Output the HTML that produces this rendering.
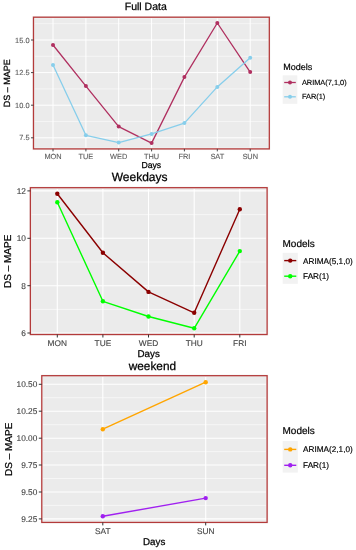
<!DOCTYPE html>
<html><head><meta charset="utf-8"><title>DS-MAPE charts</title>
<style>html,body{margin:0;padding:0;background:#fff}svg{display:block}text{font-family:"Liberation Sans",sans-serif;text-rendering:geometricPrecision}</style>
</head><body>
<svg width="356" height="550" viewBox="0 0 356 550">
<rect width="356" height="550" fill="#fff"/>
<rect x="33.5" y="17.2" width="235.80" height="131.70" fill="#EBEBEB"/>
<line x1="33.5" x2="269.3" y1="23.7" y2="23.7" stroke="#fff" stroke-width="0.5"/>
<line x1="33.5" x2="269.3" y1="56.3" y2="56.3" stroke="#fff" stroke-width="0.5"/>
<line x1="33.5" x2="269.3" y1="88.9" y2="88.9" stroke="#fff" stroke-width="0.5"/>
<line x1="33.5" x2="269.3" y1="121.5" y2="121.5" stroke="#fff" stroke-width="0.5"/>
<line x1="33.5" x2="269.3" y1="40" y2="40" stroke="#fff" stroke-width="1"/>
<line x1="33.5" x2="269.3" y1="72.6" y2="72.6" stroke="#fff" stroke-width="1"/>
<line x1="33.5" x2="269.3" y1="105.2" y2="105.2" stroke="#fff" stroke-width="1"/>
<line x1="33.5" x2="269.3" y1="137.8" y2="137.8" stroke="#fff" stroke-width="1"/>
<line x1="53" x2="53" y1="17.2" y2="148.9" stroke="#fff" stroke-width="1"/>
<line x1="85.9" x2="85.9" y1="17.2" y2="148.9" stroke="#fff" stroke-width="1"/>
<line x1="118.7" x2="118.7" y1="17.2" y2="148.9" stroke="#fff" stroke-width="1"/>
<line x1="151.6" x2="151.6" y1="17.2" y2="148.9" stroke="#fff" stroke-width="1"/>
<line x1="184.4" x2="184.4" y1="17.2" y2="148.9" stroke="#fff" stroke-width="1"/>
<line x1="217.3" x2="217.3" y1="17.2" y2="148.9" stroke="#fff" stroke-width="1"/>
<line x1="250.2" x2="250.2" y1="17.2" y2="148.9" stroke="#fff" stroke-width="1"/>
<polyline points="53,45 85.9,86.1 118.7,126.6 151.6,143.1 184.4,77.1 217.3,23.0 250.2,72.1" fill="none" stroke="#B03060" stroke-width="1.3" stroke-linejoin="round"/>
<circle cx="53" cy="45" r="2.0" fill="#B03060"/>
<circle cx="85.9" cy="86.1" r="2.0" fill="#B03060"/>
<circle cx="118.7" cy="126.6" r="2.0" fill="#B03060"/>
<circle cx="151.6" cy="143.1" r="2.0" fill="#B03060"/>
<circle cx="184.4" cy="77.1" r="2.0" fill="#B03060"/>
<circle cx="217.3" cy="23.0" r="2.0" fill="#B03060"/>
<circle cx="250.2" cy="72.1" r="2.0" fill="#B03060"/>
<polyline points="53,65 85.9,135.3 118.7,142.6 151.6,133.9 184.4,123.1 217.3,86.9 250.2,57.7" fill="none" stroke="#87CEEB" stroke-width="1.3" stroke-linejoin="round"/>
<circle cx="53" cy="65" r="2.0" fill="#87CEEB"/>
<circle cx="85.9" cy="135.3" r="2.0" fill="#87CEEB"/>
<circle cx="118.7" cy="142.6" r="2.0" fill="#87CEEB"/>
<circle cx="151.6" cy="133.9" r="2.0" fill="#87CEEB"/>
<circle cx="184.4" cy="123.1" r="2.0" fill="#87CEEB"/>
<circle cx="217.3" cy="86.9" r="2.0" fill="#87CEEB"/>
<circle cx="250.2" cy="57.7" r="2.0" fill="#87CEEB"/>
<rect x="33.5" y="17.2" width="235.80" height="131.70" fill="none" stroke="#F4F4F4" stroke-width="2.5"/>
<rect x="33.5" y="17.2" width="235.80" height="131.70" fill="none" stroke="#B33A3A" stroke-width="1.3"/>
<line x1="31.0" x2="33.5" y1="40" y2="40" stroke="#333" stroke-width="0.9"/>
<text x="29.5" y="42.66" font-size="7.4" fill="#5E5E5E" stroke="#5E5E5E" stroke-width="0.12" text-anchor="end">15.0</text>
<line x1="31.0" x2="33.5" y1="72.6" y2="72.6" stroke="#333" stroke-width="0.9"/>
<text x="29.5" y="75.26" font-size="7.4" fill="#5E5E5E" stroke="#5E5E5E" stroke-width="0.12" text-anchor="end">12.5</text>
<line x1="31.0" x2="33.5" y1="105.2" y2="105.2" stroke="#333" stroke-width="0.9"/>
<text x="29.5" y="107.86" font-size="7.4" fill="#5E5E5E" stroke="#5E5E5E" stroke-width="0.12" text-anchor="end">10.0</text>
<line x1="31.0" x2="33.5" y1="137.8" y2="137.8" stroke="#333" stroke-width="0.9"/>
<text x="29.5" y="140.46" font-size="7.4" fill="#5E5E5E" stroke="#5E5E5E" stroke-width="0.12" text-anchor="end">7.5</text>
<line x1="53" x2="53" y1="148.9" y2="151.4" stroke="#333" stroke-width="0.9"/>
<text x="53" y="159.3" font-size="7.4" fill="#5E5E5E" stroke="#5E5E5E" stroke-width="0.12" text-anchor="middle">MON</text>
<line x1="85.9" x2="85.9" y1="148.9" y2="151.4" stroke="#333" stroke-width="0.9"/>
<text x="85.9" y="159.3" font-size="7.4" fill="#5E5E5E" stroke="#5E5E5E" stroke-width="0.12" text-anchor="middle">TUE</text>
<line x1="118.7" x2="118.7" y1="148.9" y2="151.4" stroke="#333" stroke-width="0.9"/>
<text x="118.7" y="159.3" font-size="7.4" fill="#5E5E5E" stroke="#5E5E5E" stroke-width="0.12" text-anchor="middle">WED</text>
<line x1="151.6" x2="151.6" y1="148.9" y2="151.4" stroke="#333" stroke-width="0.9"/>
<text x="151.6" y="159.3" font-size="7.4" fill="#5E5E5E" stroke="#5E5E5E" stroke-width="0.12" text-anchor="middle">THU</text>
<line x1="184.4" x2="184.4" y1="148.9" y2="151.4" stroke="#333" stroke-width="0.9"/>
<text x="184.4" y="159.3" font-size="7.4" fill="#5E5E5E" stroke="#5E5E5E" stroke-width="0.12" text-anchor="middle">FRI</text>
<line x1="217.3" x2="217.3" y1="148.9" y2="151.4" stroke="#333" stroke-width="0.9"/>
<text x="217.3" y="159.3" font-size="7.4" fill="#5E5E5E" stroke="#5E5E5E" stroke-width="0.12" text-anchor="middle">SAT</text>
<line x1="250.2" x2="250.2" y1="148.9" y2="151.4" stroke="#333" stroke-width="0.9"/>
<text x="250.2" y="159.3" font-size="7.4" fill="#5E5E5E" stroke="#5E5E5E" stroke-width="0.12" text-anchor="middle">SUN</text>
<text x="145.8" y="10.4" font-size="10.5" fill="#000" stroke="#000" stroke-width="0.25" text-anchor="middle">Full Data</text>
<text x="151.3" y="167.9" font-size="8.7" fill="#000" stroke="#000" stroke-width="0.25" text-anchor="middle">Days</text>
<text transform="translate(10.4,83.2) rotate(-90)" font-size="9" fill="#000" stroke="#000" stroke-width="0.25" text-anchor="middle">DS – MAPE</text>
<text x="283.2" y="69.7" font-size="9" fill="#000" stroke="#000" stroke-width="0.2">Models</text>
<rect x="282.7" y="75.3" width="14.60" height="28.50" fill="#F2F2F2"/>
<line x1="284.2" x2="295.8" y1="82.5" y2="82.5" stroke="#B03060" stroke-width="1.3"/>
<circle cx="290.0" cy="82.5" r="2.0" fill="#B03060"/>
<text x="301.9" y="85.16" font-size="7.4" fill="#000" stroke="#000" stroke-width="0.15">ARIMA(7,1,0)</text>
<line x1="284.2" x2="295.8" y1="96.8" y2="96.8" stroke="#87CEEB" stroke-width="1.3"/>
<circle cx="290.0" cy="96.8" r="2.0" fill="#87CEEB"/>
<text x="301.9" y="99.46" font-size="7.4" fill="#000" stroke="#000" stroke-width="0.15">FAR(1)</text>
<rect x="30.4" y="187.7" width="236.70" height="146.80" fill="#EBEBEB"/>
<line x1="30.4" x2="267.1" y1="214.6" y2="214.6" stroke="#fff" stroke-width="0.55"/>
<line x1="30.4" x2="267.1" y1="262" y2="262" stroke="#fff" stroke-width="0.55"/>
<line x1="30.4" x2="267.1" y1="309.4" y2="309.4" stroke="#fff" stroke-width="0.55"/>
<line x1="30.4" x2="267.1" y1="190.9" y2="190.9" stroke="#fff" stroke-width="1.1"/>
<line x1="30.4" x2="267.1" y1="238.3" y2="238.3" stroke="#fff" stroke-width="1.1"/>
<line x1="30.4" x2="267.1" y1="285.7" y2="285.7" stroke="#fff" stroke-width="1.1"/>
<line x1="30.4" x2="267.1" y1="333.0" y2="333.0" stroke="#fff" stroke-width="1.1"/>
<line x1="57.3" x2="57.3" y1="187.7" y2="334.5" stroke="#fff" stroke-width="1.1"/>
<line x1="102.9" x2="102.9" y1="187.7" y2="334.5" stroke="#fff" stroke-width="1.1"/>
<line x1="148.5" x2="148.5" y1="187.7" y2="334.5" stroke="#fff" stroke-width="1.1"/>
<line x1="194.2" x2="194.2" y1="187.7" y2="334.5" stroke="#fff" stroke-width="1.1"/>
<line x1="239.8" x2="239.8" y1="187.7" y2="334.5" stroke="#fff" stroke-width="1.1"/>
<polyline points="57.3,193.8 102.9,252.8 148.5,291.9 194.2,312.8 239.8,209.2" fill="none" stroke="#8B0000" stroke-width="1.4" stroke-linejoin="round"/>
<circle cx="57.3" cy="193.8" r="2.2" fill="#8B0000"/>
<circle cx="102.9" cy="252.8" r="2.2" fill="#8B0000"/>
<circle cx="148.5" cy="291.9" r="2.2" fill="#8B0000"/>
<circle cx="194.2" cy="312.8" r="2.2" fill="#8B0000"/>
<circle cx="239.8" cy="209.2" r="2.2" fill="#8B0000"/>
<polyline points="57.3,202.3 102.9,301.3 148.5,316.5 194.2,328.3 239.8,251.1" fill="none" stroke="#00FF00" stroke-width="1.4" stroke-linejoin="round"/>
<circle cx="57.3" cy="202.3" r="2.2" fill="#00FF00"/>
<circle cx="102.9" cy="301.3" r="2.2" fill="#00FF00"/>
<circle cx="148.5" cy="316.5" r="2.2" fill="#00FF00"/>
<circle cx="194.2" cy="328.3" r="2.2" fill="#00FF00"/>
<circle cx="239.8" cy="251.1" r="2.2" fill="#00FF00"/>
<rect x="30.4" y="187.7" width="236.70" height="146.80" fill="none" stroke="#F4F4F4" stroke-width="2.5"/>
<rect x="30.4" y="187.7" width="236.70" height="146.80" fill="none" stroke="#B33A3A" stroke-width="1.3"/>
<line x1="27.4" x2="30.4" y1="190.9" y2="190.9" stroke="#333" stroke-width="1"/>
<text x="25.9" y="193.89" font-size="8.3" fill="#444" stroke="#444" stroke-width="0.12" text-anchor="end">12</text>
<line x1="27.4" x2="30.4" y1="238.3" y2="238.3" stroke="#333" stroke-width="1"/>
<text x="25.9" y="241.29" font-size="8.3" fill="#444" stroke="#444" stroke-width="0.12" text-anchor="end">10</text>
<line x1="27.4" x2="30.4" y1="285.7" y2="285.7" stroke="#333" stroke-width="1"/>
<text x="25.9" y="288.69" font-size="8.3" fill="#444" stroke="#444" stroke-width="0.12" text-anchor="end">8</text>
<line x1="27.4" x2="30.4" y1="333.0" y2="333.0" stroke="#333" stroke-width="1"/>
<text x="25.9" y="335.99" font-size="8.3" fill="#444" stroke="#444" stroke-width="0.12" text-anchor="end">6</text>
<line x1="57.3" x2="57.3" y1="334.5" y2="337.5" stroke="#333" stroke-width="1"/>
<text x="57.3" y="345.6" font-size="8.3" fill="#444" stroke="#444" stroke-width="0.12" text-anchor="middle">MON</text>
<line x1="102.9" x2="102.9" y1="334.5" y2="337.5" stroke="#333" stroke-width="1"/>
<text x="102.9" y="345.6" font-size="8.3" fill="#444" stroke="#444" stroke-width="0.12" text-anchor="middle">TUE</text>
<line x1="148.5" x2="148.5" y1="334.5" y2="337.5" stroke="#333" stroke-width="1"/>
<text x="148.5" y="345.6" font-size="8.3" fill="#444" stroke="#444" stroke-width="0.12" text-anchor="middle">WED</text>
<line x1="194.2" x2="194.2" y1="334.5" y2="337.5" stroke="#333" stroke-width="1"/>
<text x="194.2" y="345.6" font-size="8.3" fill="#444" stroke="#444" stroke-width="0.12" text-anchor="middle">THU</text>
<line x1="239.8" x2="239.8" y1="334.5" y2="337.5" stroke="#333" stroke-width="1"/>
<text x="239.8" y="345.6" font-size="8.3" fill="#444" stroke="#444" stroke-width="0.12" text-anchor="middle">FRI</text>
<text x="139.6" y="181.1" font-size="12" fill="#000" stroke="#000" stroke-width="0.25" text-anchor="middle">Weekdays</text>
<text x="148.7" y="356.9" font-size="9.8" fill="#000" stroke="#000" stroke-width="0.25" text-anchor="middle">Days</text>
<text transform="translate(11.0,261.3) rotate(-90)" font-size="10" fill="#000" stroke="#000" stroke-width="0.25" text-anchor="middle">DS – MAPE</text>
<text x="282.5" y="246.6" font-size="10" fill="#000" stroke="#000" stroke-width="0.2">Models</text>
<rect x="282.7" y="252.8" width="15.10" height="31.00" fill="#F2F2F2"/>
<line x1="284.2" x2="296.3" y1="260.6" y2="260.6" stroke="#8B0000" stroke-width="1.4"/>
<circle cx="290.25" cy="260.6" r="2.2" fill="#8B0000"/>
<text x="303.1" y="263.55" font-size="8.2" fill="#000" stroke="#000" stroke-width="0.15">ARIMA(5,1,0)</text>
<line x1="284.2" x2="296.3" y1="276.2" y2="276.2" stroke="#00FF00" stroke-width="1.4"/>
<circle cx="290.25" cy="276.2" r="2.2" fill="#00FF00"/>
<text x="303.1" y="279.15" font-size="8.2" fill="#000" stroke="#000" stroke-width="0.15">FAR(1)</text>
<rect x="41.8" y="375.7" width="225.30" height="146.70" fill="#EBEBEB"/>
<line x1="41.8" x2="267.1" y1="397.7" y2="397.7" stroke="#fff" stroke-width="0.55"/>
<line x1="41.8" x2="267.1" y1="424.7" y2="424.7" stroke="#fff" stroke-width="0.55"/>
<line x1="41.8" x2="267.1" y1="451.6" y2="451.6" stroke="#fff" stroke-width="0.55"/>
<line x1="41.8" x2="267.1" y1="478.5" y2="478.5" stroke="#fff" stroke-width="0.55"/>
<line x1="41.8" x2="267.1" y1="505.4" y2="505.4" stroke="#fff" stroke-width="0.55"/>
<line x1="41.8" x2="267.1" y1="384.3" y2="384.3" stroke="#fff" stroke-width="1.1"/>
<line x1="41.8" x2="267.1" y1="411.2" y2="411.2" stroke="#fff" stroke-width="1.1"/>
<line x1="41.8" x2="267.1" y1="438.2" y2="438.2" stroke="#fff" stroke-width="1.1"/>
<line x1="41.8" x2="267.1" y1="465" y2="465" stroke="#fff" stroke-width="1.1"/>
<line x1="41.8" x2="267.1" y1="492" y2="492" stroke="#fff" stroke-width="1.1"/>
<line x1="41.8" x2="267.1" y1="518.9" y2="518.9" stroke="#fff" stroke-width="1.1"/>
<line x1="102.8" x2="102.8" y1="375.7" y2="522.4" stroke="#fff" stroke-width="1.1"/>
<line x1="205.7" x2="205.7" y1="375.7" y2="522.4" stroke="#fff" stroke-width="1.1"/>
<polyline points="102.8,429.2 205.7,382.2" fill="none" stroke="#FFA500" stroke-width="1.4" stroke-linejoin="round"/>
<circle cx="102.8" cy="429.2" r="2.2" fill="#FFA500"/>
<circle cx="205.7" cy="382.2" r="2.2" fill="#FFA500"/>
<polyline points="102.8,516.3 205.7,498.1" fill="none" stroke="#A020F0" stroke-width="1.4" stroke-linejoin="round"/>
<circle cx="102.8" cy="516.3" r="2.2" fill="#A020F0"/>
<circle cx="205.7" cy="498.1" r="2.2" fill="#A020F0"/>
<rect x="41.8" y="375.7" width="225.30" height="146.70" fill="none" stroke="#F4F4F4" stroke-width="2.5"/>
<rect x="41.8" y="375.7" width="225.30" height="146.70" fill="none" stroke="#B33A3A" stroke-width="1.3"/>
<line x1="38.8" x2="41.8" y1="384.3" y2="384.3" stroke="#333" stroke-width="1"/>
<text x="37.3" y="387.29" font-size="8.3" fill="#444" stroke="#444" stroke-width="0.12" text-anchor="end">10.50</text>
<line x1="38.8" x2="41.8" y1="411.2" y2="411.2" stroke="#333" stroke-width="1"/>
<text x="37.3" y="414.19" font-size="8.3" fill="#444" stroke="#444" stroke-width="0.12" text-anchor="end">10.25</text>
<line x1="38.8" x2="41.8" y1="438.2" y2="438.2" stroke="#333" stroke-width="1"/>
<text x="37.3" y="441.19" font-size="8.3" fill="#444" stroke="#444" stroke-width="0.12" text-anchor="end">10.00</text>
<line x1="38.8" x2="41.8" y1="465" y2="465" stroke="#333" stroke-width="1"/>
<text x="37.3" y="467.99" font-size="8.3" fill="#444" stroke="#444" stroke-width="0.12" text-anchor="end">9.75</text>
<line x1="38.8" x2="41.8" y1="492" y2="492" stroke="#333" stroke-width="1"/>
<text x="37.3" y="494.99" font-size="8.3" fill="#444" stroke="#444" stroke-width="0.12" text-anchor="end">9.50</text>
<line x1="38.8" x2="41.8" y1="518.9" y2="518.9" stroke="#333" stroke-width="1"/>
<text x="37.3" y="521.89" font-size="8.3" fill="#444" stroke="#444" stroke-width="0.12" text-anchor="end">9.25</text>
<line x1="102.8" x2="102.8" y1="522.4" y2="525.4" stroke="#333" stroke-width="1"/>
<text x="102.8" y="533.6" font-size="8.3" fill="#444" stroke="#444" stroke-width="0.12" text-anchor="middle">SAT</text>
<line x1="205.7" x2="205.7" y1="522.4" y2="525.4" stroke="#333" stroke-width="1"/>
<text x="205.7" y="533.6" font-size="8.3" fill="#444" stroke="#444" stroke-width="0.12" text-anchor="middle">SUN</text>
<text x="152.4" y="369.9" font-size="11.8" fill="#000" stroke="#000" stroke-width="0.25" text-anchor="middle">weekend</text>
<text x="154.2" y="545" font-size="9.8" fill="#000" stroke="#000" stroke-width="0.25" text-anchor="middle">Days</text>
<text transform="translate(11.5,449.3) rotate(-90)" font-size="10" fill="#000" stroke="#000" stroke-width="0.25" text-anchor="middle">DS – MAPE</text>
<text x="282.5" y="434.3" font-size="10" fill="#000" stroke="#000" stroke-width="0.2">Models</text>
<rect x="282.7" y="441" width="15.10" height="31.60" fill="#F2F2F2"/>
<line x1="284.2" x2="296.3" y1="449.4" y2="449.4" stroke="#FFA500" stroke-width="1.4"/>
<circle cx="290.25" cy="449.4" r="2.2" fill="#FFA500"/>
<text x="303.1" y="452.35" font-size="8.2" fill="#000" stroke="#000" stroke-width="0.15">ARIMA(2,1,0)</text>
<line x1="284.2" x2="296.3" y1="465.3" y2="465.3" stroke="#A020F0" stroke-width="1.4"/>
<circle cx="290.25" cy="465.3" r="2.2" fill="#A020F0"/>
<text x="303.1" y="468.25" font-size="8.2" fill="#000" stroke="#000" stroke-width="0.15">FAR(1)</text>
</svg>
</body></html>
